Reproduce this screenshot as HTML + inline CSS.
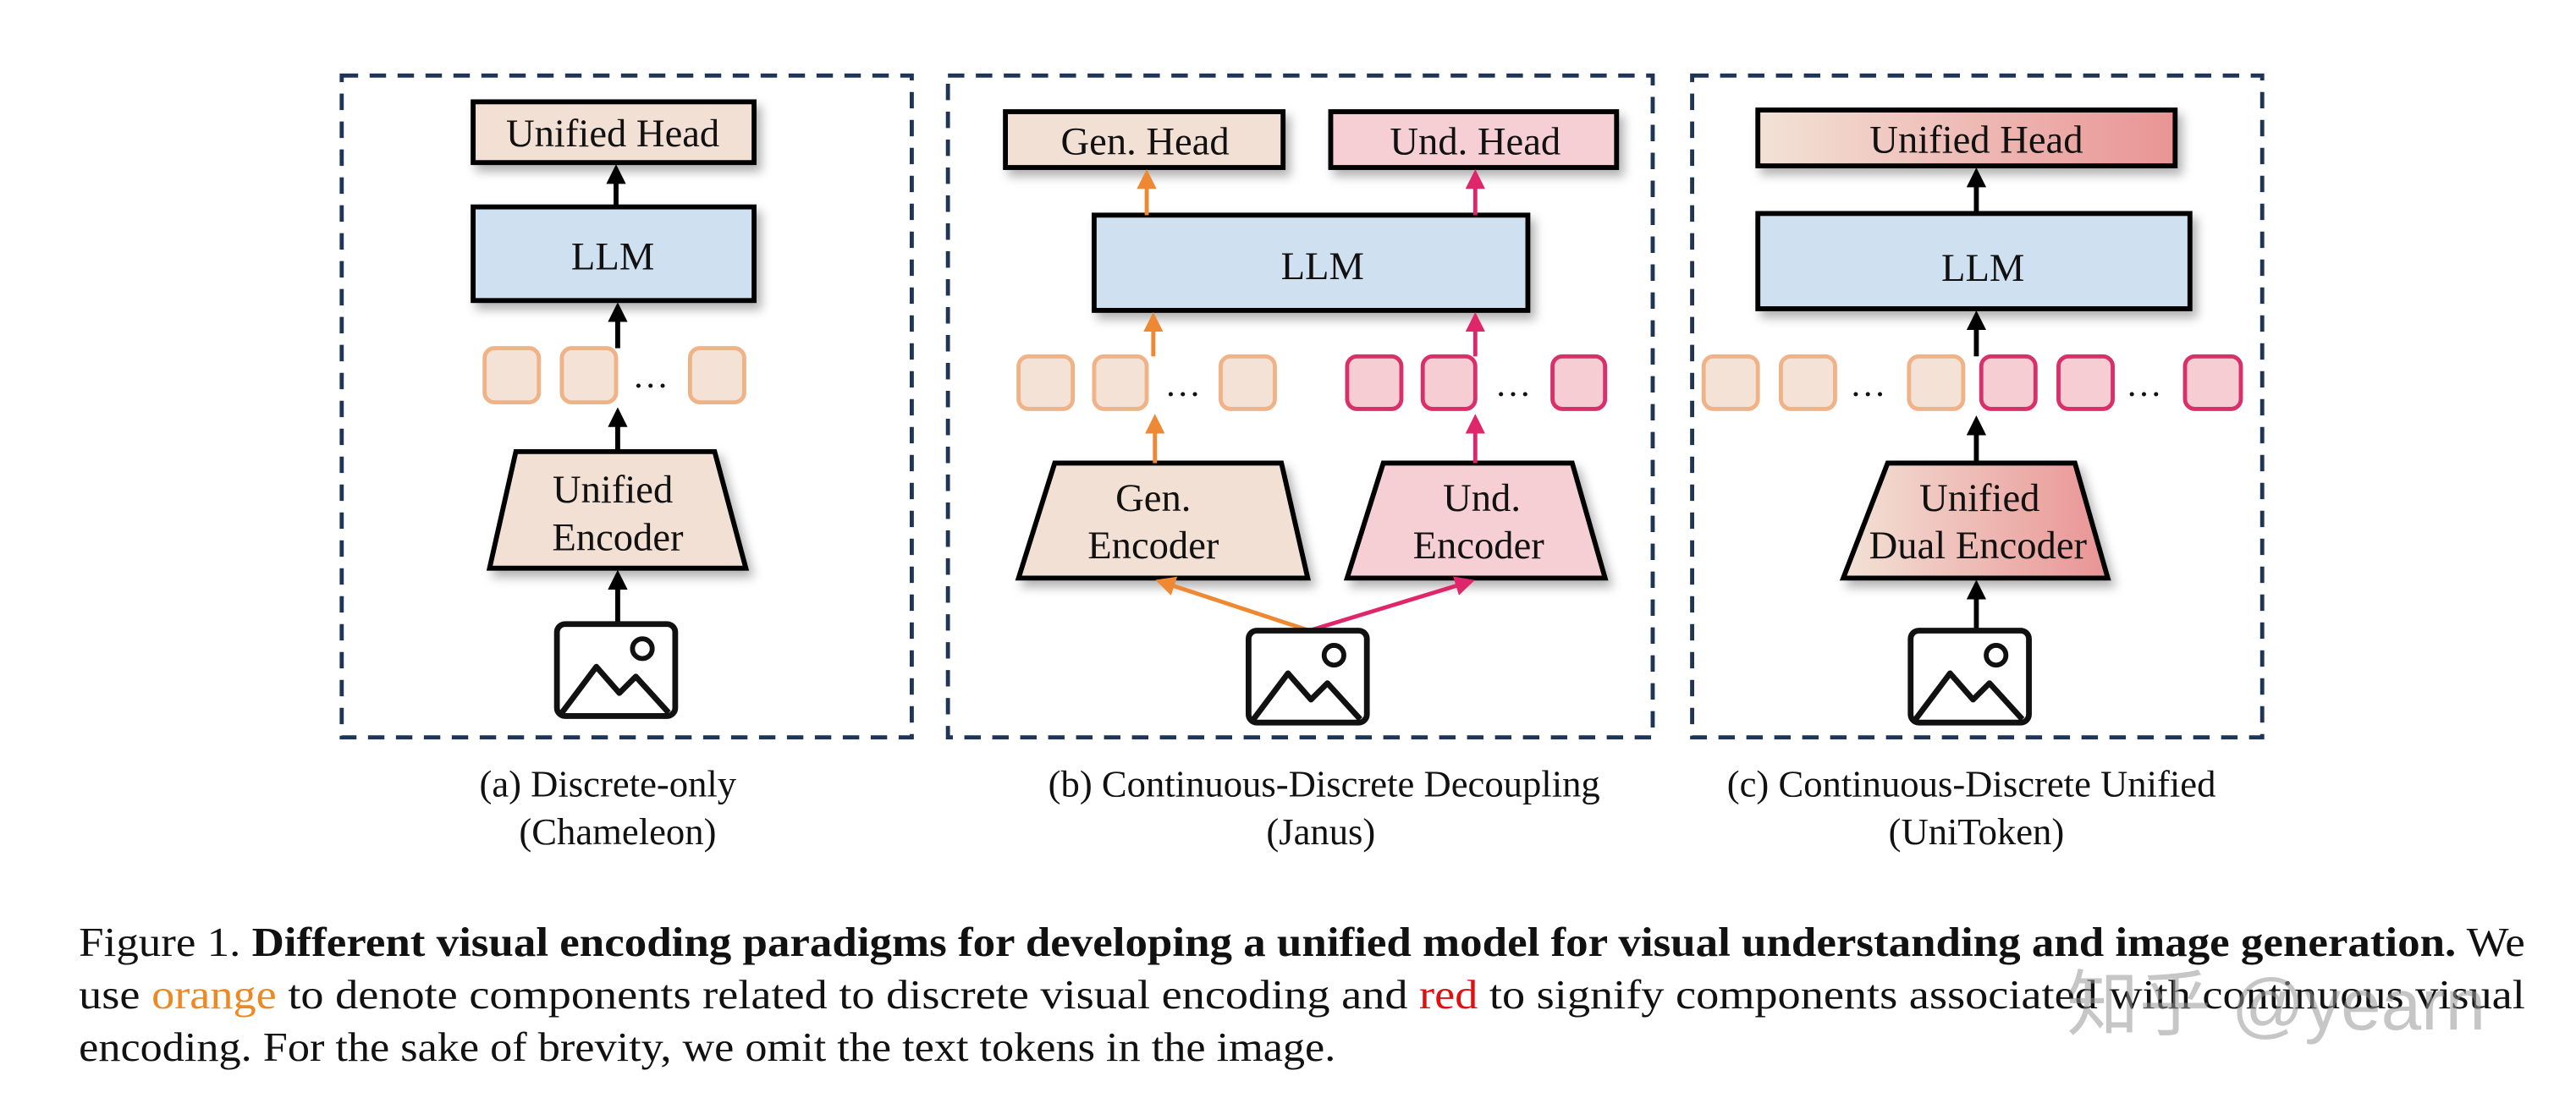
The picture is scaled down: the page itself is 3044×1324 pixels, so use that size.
<!DOCTYPE html>
<html><head><meta charset="utf-8"><style>
html,body{margin:0;padding:0;background:#fff;width:3044px;height:1324px;overflow:hidden}
svg{display:block}
text{font-family:"Liberation Serif","Noto Serif CJK SC",serif;fill:#111}
</style></head><body>
<svg width="3044" height="1324" viewBox="0 0 1568 682" xmlns="http://www.w3.org/2000/svg">
<defs>
<filter id="sh" x="-20%" y="-30%" width="150%" height="180%"><feDropShadow dx="3" dy="4" stdDeviation="3" flood-color="#000" flood-opacity="0.3"/></filter>
<linearGradient id="gr" x1="0" x2="1" y1="0" y2="0"><stop offset="0" stop-color="#f3e2d6"/><stop offset="1" stop-color="#e99494"/></linearGradient>
<marker id="ab" markerWidth="12" markerHeight="12" refX="6" refY="6" orient="auto" markerUnits="userSpaceOnUse" viewBox="0 0 12 12"><path d="M0,0 L12,6 L0,12 z" fill="#000"/></marker>
<marker id="ao" markerWidth="12" markerHeight="12" refX="6" refY="6" orient="auto" markerUnits="userSpaceOnUse" viewBox="0 0 12 12"><path d="M0,0 L12,6 L0,12 z" fill="#ee8833"/></marker>
<marker id="ap" markerWidth="12" markerHeight="12" refX="6" refY="6" orient="auto" markerUnits="userSpaceOnUse" viewBox="0 0 12 12"><path d="M0,0 L12,6 L0,12 z" fill="#e0266a"/></marker>
<g id="img"><rect x="0" y="0" width="72" height="56" rx="5" fill="#fff" stroke="#111" stroke-width="3.5"/><path d="M3,54 L24,26 L38,42 L48,32 L68,54" fill="none" stroke="#111" stroke-width="3.5" stroke-linejoin="round"/><circle cx="52" cy="15" r="6" fill="none" stroke="#111" stroke-width="3"/></g>
</defs>

<g fill="none" stroke="#1f3557" stroke-width="2.5" stroke-dasharray="10,7">
<rect x="208" y="46" width="347" height="403"/>
<rect x="577" y="46" width="429" height="403"/>
<rect x="1030" y="46" width="347" height="403"/>
</g>

<!-- Panel a -->
<g stroke="#000" stroke-width="3" filter="url(#sh)">
<rect x="288" y="62" width="171" height="37" fill="#f2e0d4"/>
<rect x="288" y="126" width="171" height="57" fill="#cfe0f0"/>
<polygon points="314,275 435,275 454,346 298,346" fill="#f2e0d4"/>
</g>
<text x="373" y="89" font-size="24" text-anchor="middle">Unified Head</text>
<text x="373" y="164" font-size="24" text-anchor="middle">LLM</text>
<text x="373" y="306" font-size="24" text-anchor="middle">Unified</text>
<text x="376" y="335" font-size="24" text-anchor="middle">Encoder</text>
<g fill="#f4e2d6" stroke="#f0b287" stroke-width="2.5">
<rect x="295" y="212" width="33" height="33" rx="6"/><rect x="342" y="212" width="33" height="33" rx="6"/><rect x="420" y="212" width="33" height="33" rx="6"/>
</g>
<text x="396" y="236" font-size="22" text-anchor="middle">…</text>
<g stroke="#000" stroke-width="3" marker-end="url(#ab)">
<line x1="375" y1="126" x2="375" y2="106"/>
<line x1="376" y1="212" x2="376" y2="190"/>
<line x1="376" y1="275" x2="376" y2="254"/>
<line x1="376" y1="382" x2="376" y2="353"/>
</g>
<use href="#img" x="339" y="380"/>

<!-- Panel b -->
<g stroke="#000" stroke-width="3" filter="url(#sh)">
<rect x="612" y="68" width="169" height="34" fill="#f2e0d4"/>
<rect x="810" y="68" width="174" height="34" fill="#f5cfd4"/>
<rect x="666" y="131" width="264" height="58" fill="#cfe0f0"/>
<polygon points="642,282 780,282 796,352 620,352" fill="#f2e0d4"/>
<polygon points="842,282 957,282 977,352 820,352" fill="#f5cfd4"/>
</g>
<text x="697" y="94" font-size="24" text-anchor="middle">Gen. Head</text>
<text x="898" y="94" font-size="24" text-anchor="middle">Und. Head</text>
<text x="805" y="170" font-size="24" text-anchor="middle">LLM</text>
<text x="702" y="311" font-size="24" text-anchor="middle">Gen.</text>
<text x="702" y="340" font-size="24" text-anchor="middle">Encoder</text>
<text x="902" y="311" font-size="24" text-anchor="middle">Und.</text>
<text x="900" y="340" font-size="24" text-anchor="middle">Encoder</text>
<g fill="#f4e2d6" stroke="#f0b287" stroke-width="2.5">
<rect x="620" y="217" width="33" height="32" rx="6"/><rect x="666" y="217" width="32" height="32" rx="6"/><rect x="743" y="217" width="33" height="32" rx="6"/>
</g>
<g fill="#f5cdd3" stroke="#d8306a" stroke-width="2.5">
<rect x="820" y="217" width="33" height="32" rx="6"/><rect x="866" y="217" width="32" height="32" rx="6"/><rect x="945" y="217" width="32" height="32" rx="6"/>
</g>
<text x="720" y="241" font-size="22" text-anchor="middle">…</text>
<text x="921" y="241" font-size="22" text-anchor="middle">…</text>
<g stroke="#ee8833" stroke-width="2.5" marker-end="url(#ao)">
<line x1="698" y1="131" x2="698" y2="109"/>
<line x1="702" y1="217" x2="702" y2="196"/>
<line x1="703" y1="282" x2="703" y2="258"/>
<line x1="797" y1="384" x2="709" y2="355"/>
</g>
<g stroke="#e0266a" stroke-width="2.5" marker-end="url(#ap)">
<line x1="898" y1="131" x2="898" y2="109"/>
<line x1="898" y1="217" x2="898" y2="196"/>
<line x1="898" y1="282" x2="898" y2="258"/>
<line x1="797" y1="384" x2="892" y2="355"/>
</g>
<use href="#img" x="760" y="384"/>

<!-- Panel c -->
<g stroke="#000" stroke-width="3" filter="url(#sh)">
<rect x="1070" y="67" width="254" height="34" fill="url(#gr)"/>
<rect x="1070" y="130" width="263" height="58" fill="#cfe0f0"/>
<polygon points="1149,282 1263,282 1283,352 1122,352" fill="url(#gr)"/>
</g>
<text x="1203" y="93" font-size="24" text-anchor="middle">Unified Head</text>
<text x="1207" y="171" font-size="24" text-anchor="middle">LLM</text>
<text x="1205" y="311" font-size="24" text-anchor="middle">Unified</text>
<text x="1204" y="340" font-size="24" text-anchor="middle">Dual Encoder</text>
<g fill="#f4e2d6" stroke="#f0b287" stroke-width="2.5">
<rect x="1037" y="217" width="33" height="32" rx="6"/><rect x="1084" y="217" width="33" height="32" rx="6"/><rect x="1162" y="217" width="33" height="32" rx="6"/>
</g>
<g fill="#f5cdd3" stroke="#d8306a" stroke-width="2.5">
<rect x="1206" y="217" width="33" height="32" rx="6"/><rect x="1253" y="217" width="33" height="32" rx="6"/><rect x="1330" y="217" width="34" height="32" rx="6"/>
</g>
<text x="1137" y="241" font-size="22" text-anchor="middle">…</text>
<text x="1305" y="241" font-size="22" text-anchor="middle">…</text>
<g stroke="#000" stroke-width="3" marker-end="url(#ab)">
<line x1="1203" y1="130" x2="1203" y2="108"/>
<line x1="1203" y1="217" x2="1203" y2="195"/>
<line x1="1203" y1="282" x2="1203" y2="259"/>
<line x1="1203" y1="386" x2="1203" y2="359"/>
</g>
<use href="#img" x="1163" y="384"/>

<text x="370" y="485" font-size="23" text-anchor="middle">(a) Discrete-only</text>
<text x="376" y="514" font-size="23" text-anchor="middle">(Chameleon)</text>
<text x="806" y="485" font-size="23" text-anchor="middle">(b) Continuous-Discrete Decoupling</text>
<text x="804" y="514" font-size="23" text-anchor="middle">(Janus)</text>
<text x="1200" y="485" font-size="23" text-anchor="middle">(c) Continuous-Discrete Unified</text>
<text x="1203" y="514" font-size="23" text-anchor="middle">(UniToken)</text>

<text x="48" y="582" font-size="25" textLength="1489" lengthAdjust="spacingAndGlyphs">Figure 1. <tspan font-weight="bold">Different visual encoding paradigms for developing a unified model for visual understanding and image generation.</tspan> We</text>
<text x="48" y="614" font-size="25" textLength="1489" lengthAdjust="spacingAndGlyphs">use <tspan style="fill:#ee8822">orange</tspan> to denote components related to discrete visual encoding and <tspan style="fill:#e01010">red</tspan> to signify components associated with continuous visual</text>
<text x="48" y="646" font-size="25" textLength="765" lengthAdjust="spacingAndGlyphs">encoding. For the sake of brevity, we omit the text tokens in the image.</text>
<text x="1258" y="627" font-size="44" style="fill:#999;opacity:0.55;font-family:'Liberation Sans','Noto Sans CJK SC',sans-serif">知乎 @yearn</text>
</svg>
</body></html>
